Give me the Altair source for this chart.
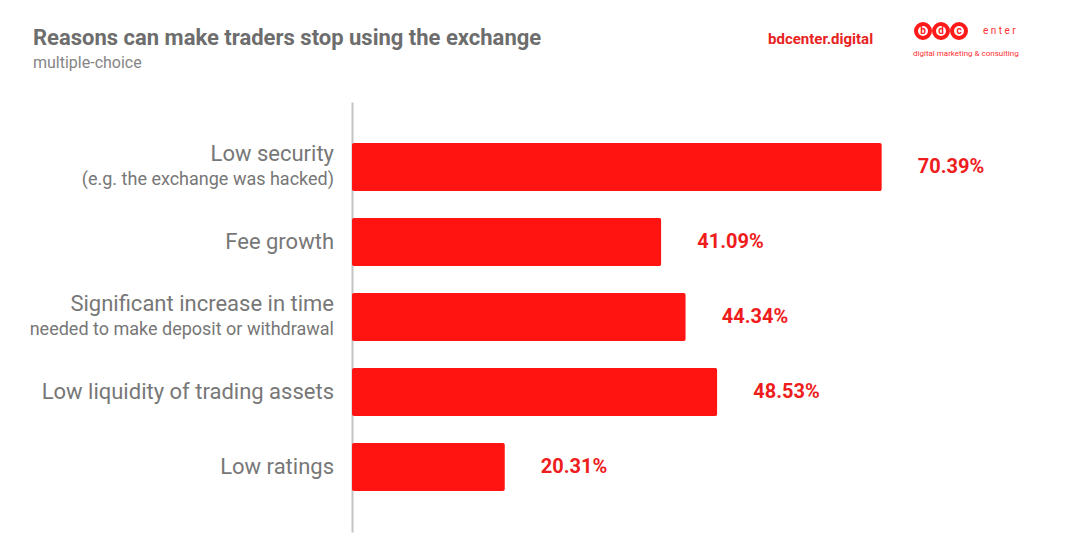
import altair as alt
import pandas as pd

# ---- data ----
main_labels = ["Low security", "Fee growth", "Significant increase in time",
               "Low liquidity of trading assets", "Low ratings"]
sub_labels = ["(e.g. the exchange was hacked)", "", "needed to make deposit or withdrawal", "", ""]
values = [70.39, 41.09, 44.34, 48.53, 20.31]
value_text = ["70.39%", "41.09%", "44.34%", "48.53%", "20.31%"]

title_text = "Reasons can make traders stop using the exchange"
subtitle_text = "multiple-choice"
brand_text = "bdcenter.digital"
logo_letters = ["b", "d", "c"]

df = pd.DataFrame({"main": main_labels, "sub": sub_labels, "value": values, "vt": value_text})
df["has_sub"] = df["sub"] != ""

RED = "#ff1411"
LABEL_RED = "#ee1c1c"
GRAY = "#777777"
FONT = "Roboto"

ysc = alt.Scale(paddingInner=0.36, paddingOuter=0.547)
yenc = alt.Y("main:N", sort=main_labels, scale=ysc,
             axis=alt.Axis(labels=False, ticks=False, title=None, grid=False,
                           domainColor="#c4c4c4", domainWidth=2))
xenc = alt.X("value:Q", scale=alt.Scale(domain=[0, 93]), axis=None)
ypos = alt.Y("main:N", sort=main_labels, scale=ysc)

base = alt.Chart(df)

bars = base.mark_bar(color=RED, cornerRadius=2).encode(x=xenc, y=yenc)

vals = base.mark_text(align="left", baseline="middle", dx=36, fontSize=20,
                      fontWeight="bold", color=LABEL_RED, font=FONT).encode(
    x=xenc, y=ypos, text="vt:N")

main_single = base.transform_filter("!datum.has_sub").mark_text(
    align="right", baseline="middle", dx=-18, fontSize=22, color=GRAY, font=FONT).encode(
    x=alt.value(0), y=ypos, text="main:N")

main_double = base.transform_filter("datum.has_sub").mark_text(
    align="right", baseline="middle", dx=-18, dy=-13, fontSize=22, color=GRAY, font=FONT).encode(
    x=alt.value(0), y=ypos, text="main:N")

sub_double = base.transform_filter("datum.has_sub").mark_text(
    align="right", baseline="middle", dx=-18, dy=13, fontSize=18, color=GRAY, font=FONT).encode(
    x=alt.value(0), y=ypos, text="sub:N")

one = alt.Data(values=[{}])

title = alt.Chart(one).mark_text(align="left", baseline="alphabetic", fontSize=22,
                                 fontWeight="bold", color="#6d6d6d", font=FONT).encode(
    x=alt.value(-319), y=alt.value(-57), text=alt.value(title_text))
subtitle = alt.Chart(one).mark_text(align="left", baseline="alphabetic", fontSize=16,
                                    color="#858585", font=FONT).encode(
    x=alt.value(-319), y=alt.value(-34), text=alt.value(subtitle_text))
brand = alt.Chart(one).mark_text(align="left", baseline="alphabetic", fontSize=15,
                                 fontWeight="bold", color="#e8231f", font=FONT).encode(
    x=alt.value(416), y=alt.value(-58), text=alt.value(brand_text))

logo_layers = []
for i, letter in enumerate(logo_letters):
    cx = 571 + i * 18
    logo_layers.append(alt.Chart(one).mark_point(shape="circle", filled=True, fill="white",
                                                 stroke="#ff1a1a", strokeWidth=4, size=196,
                                                 opacity=1).encode(
        x=alt.value(cx), y=alt.value(-71)))
    logo_layers.append(alt.Chart(one).mark_text(align="center", baseline="middle", fontSize=10,
                                                fontWeight="bold", color="#ff1a1a", font=FONT).encode(
        x=alt.value(cx), y=alt.value(-71), text=alt.value(letter)))
logo_enter = alt.Chart(one).mark_text(align="left", baseline="middle", fontSize=10,
                                      color="#ff3030", font=FONT).encode(
    x=alt.value(631), y=alt.value(-71), text=alt.value("e n t e r"))
logo_tag = alt.Chart(one).mark_text(align="left", baseline="middle", fontSize=8,
                                    color="#ff3030", font=FONT).encode(
    x=alt.value(561), y=alt.value(-48), text=alt.value("digital marketing & consulting"))

chart = alt.layer(bars, vals, main_single, main_double, sub_double,
                  title, subtitle, brand, *logo_layers, logo_enter, logo_tag).properties(
    width=700, height=430,
    autosize=alt.AutoSizeParams(type="none"),
    padding={"left": 344, "top": 94, "right": 20, "bottom": 15},
    background="white",
).configure_view(stroke=None).configure_text(font=FONT)

chart.save("out.html", embed_options={"renderer": "svg", "actions": False})
